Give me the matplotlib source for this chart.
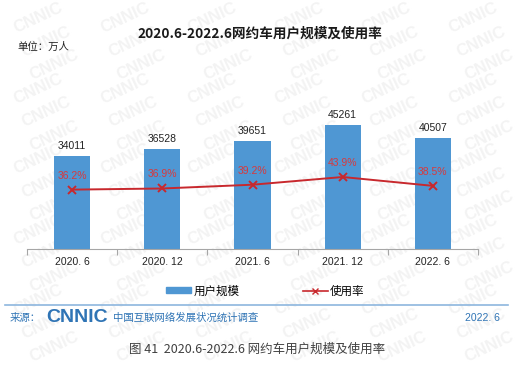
import matplotlib
matplotlib.use('Agg')
import matplotlib.pyplot as plt
from matplotlib.lines import Line2D
from matplotlib.patches import Patch
import numpy as np

plt.rcParams['font.family'] = ['Noto Sans CJK SC', 'DejaVu Sans']

# data
periods = ['2020. 6', '2020. 12', '2021. 6', '2021. 12', '2022. 6']
users = [34011, 36528, 39651, 45261, 40507]          # 万人
usage_rate = [36.2, 36.9, 39.2, 43.9, 38.5]           # %

bar_color = '#4f97d3'
line_color = '#c8282d'
blue_text = '#2f74b5'

W, H = 525, 367
fig = plt.figure(figsize=(W / 100, H / 100), dpi=100)

# faint CNNIC watermark tiled behind everything
for row, ypx in enumerate(np.arange(18, 352, 23.5)):
    for xpx in np.arange(38 + (row % 3) * 8, 495, 87):
        fig.text(xpx / W, 1 - ypx / H, 'CNNIC', fontsize=12,
                 fontweight='bold', color='#f3f3f3', rotation=25,
                 ha='center', va='center', zorder=-5,
                 family='Liberation Sans')

ax = fig.add_axes([27 / W, 1 - 249 / H, 451 / W, 164 / H])
ax.patch.set_alpha(0)
x = np.arange(len(periods))
ax.bar(x, users, width=0.4, color=bar_color, zorder=2)
for xi, v in zip(x, users):
    ax.text(xi, v + 1800, str(v), ha='center', va='bottom', fontsize=7.5,
            family='Liberation Sans', color='#222222')
ax.set_xlim(-0.5, len(periods) - 0.5)
ax.set_ylim(0, 60000)
for s in ['top', 'right', 'left']:
    ax.spines[s].set_visible(False)
ax.spines['bottom'].set_color('#a6a6a6')
ax.set_yticks([])
# tick marks sit between the categories
ax.set_xticks(np.arange(-0.5, len(periods)))
ax.set_xticklabels([])
ax.tick_params(axis='x', length=4, color='#a6a6a6', direction='out')
for xi, lab in zip(x, periods):
    ax.text(xi, -2800, lab, ha='center', va='top', fontsize=7.5,
            family='Liberation Sans', color='#222222')

# usage rate on a hidden 0-100% axis
ax2 = ax.twinx()
ax2.set_ylim(0, 100)
ax2.plot(x, usage_rate, color=line_color, lw=1.4, marker='x', ms=6,
         mew=1.4, zorder=3)
for xi, v in zip(x, usage_rate):
    ax2.text(xi, v + 5.5, f'{v:.1f}%', ha='center', va='bottom',
             fontsize=7.5, family='Liberation Sans', color='#d8393c')
ax2.axis('off')

fig.text(0.495, 1 - 34 / H, '2020.6-2022.6网约车用户规模及使用率',
         ha='center', va='center', fontsize=9.8, fontweight='bold',
         color='#1a1a1a')
fig.text(17 / W, 1 - 47 / H, '单位：万人', ha='left', va='center',
         fontsize=7.5, color='#222222')

# legend
handles = [Patch(color=bar_color),
           Line2D([], [], color=line_color, lw=1.2, marker='x', ms=5)]
fig.legend(handles, ['用户规模', '使用率'], loc='center',
           bbox_to_anchor=(0.505, 1 - 291 / H), ncol=2, frameon=False,
           fontsize=8.3, handlelength=2.2, handleheight=0.45,
           columnspacing=5.5, handletextpad=0.2)

# source line
fig.add_artist(Line2D([5 / W, 508 / W], [1 - 305 / H] * 2,
                      color='#8db6de', lw=1.2))
fig.text(10 / W, 1 - 318 / H, '来源：', ha='left', va='center',
         fontsize=7.5, color=blue_text)
fig.text(46 / W, 1 - 318 / H, 'CNNIC', ha='left', va='center',
         fontsize=14, fontweight='heavy', color=blue_text,
         family='Liberation Sans')
fig.text(113 / W, 1 - 318 / H, '中国互联网络发展状况统计调查',
         ha='left', va='center', fontsize=7.5, color=blue_text)
fig.text(500 / W, 1 - 318 / H, '2022. 6', ha='right', va='center',
         fontsize=7.5, color=blue_text, family='Liberation Sans')

fig.text(0.49, 1 - 349 / H, '图 41  2020.6-2022.6 网约车用户规模及使用率',
         ha='center', va='center', fontsize=9, color='#404040')

fig.savefig('out.png', dpi=100)
